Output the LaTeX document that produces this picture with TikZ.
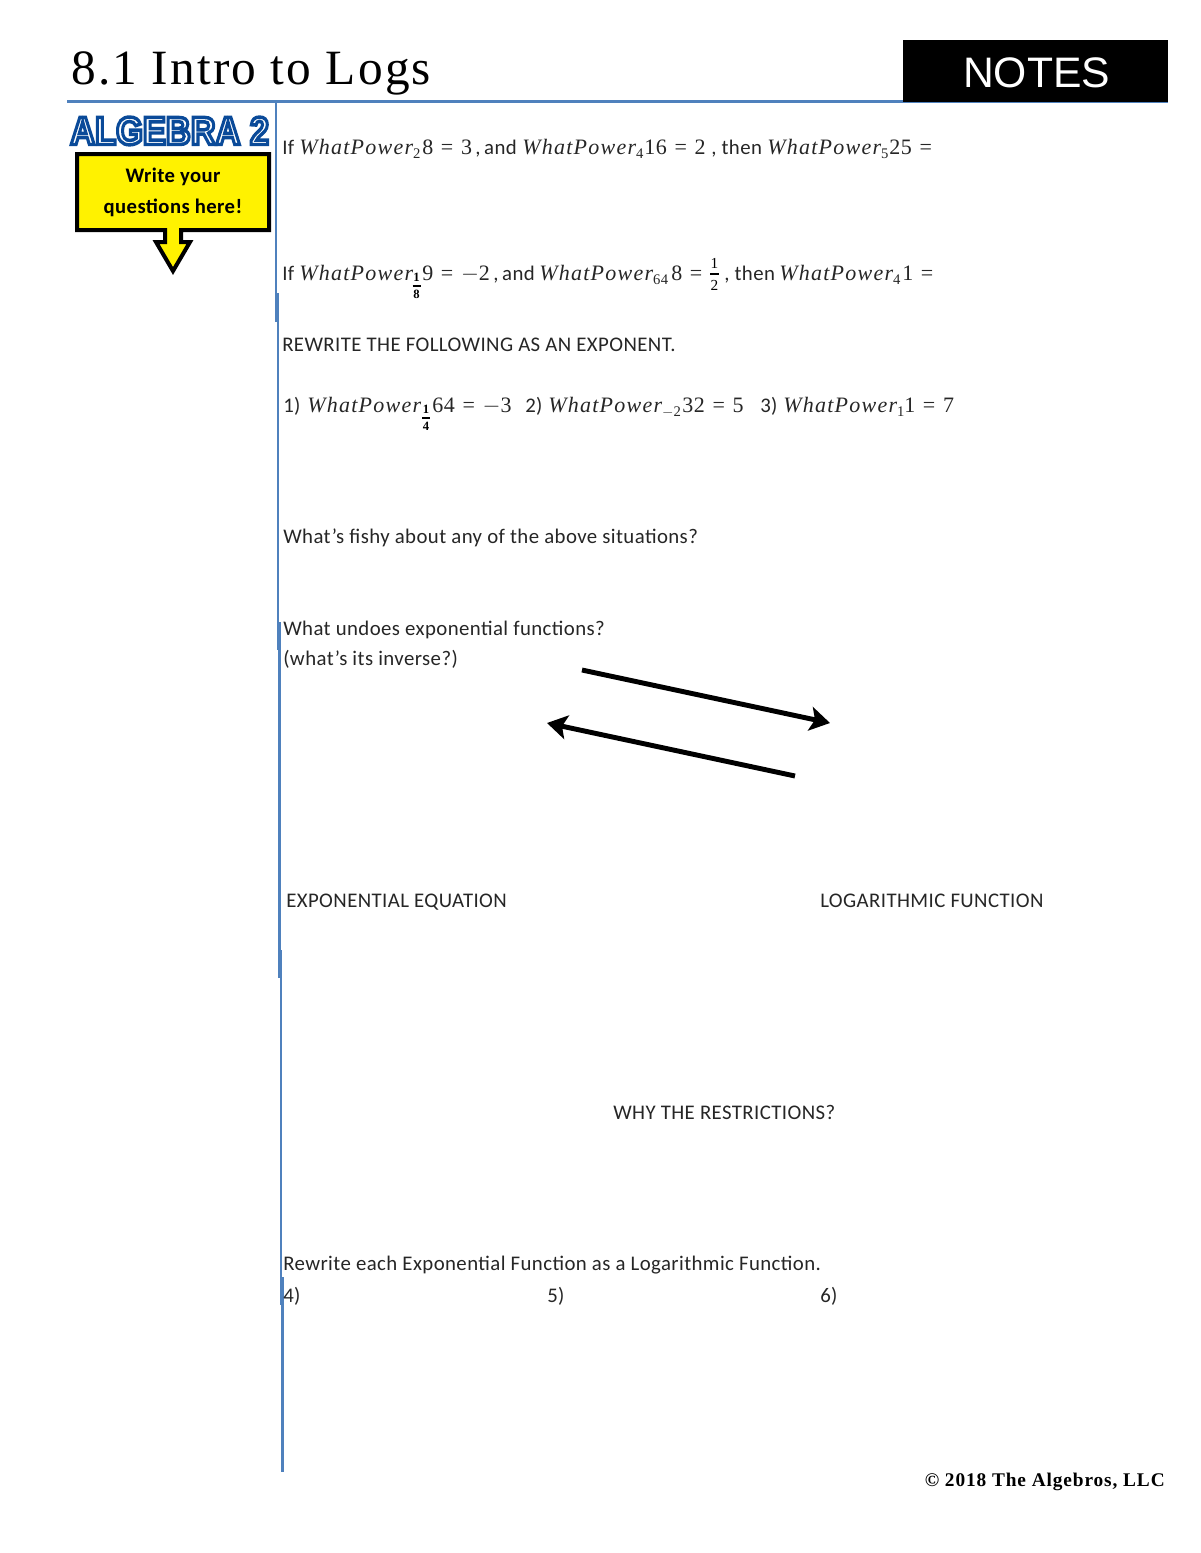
\documentclass[tikz,border=0pt]{standalone}
\usepackage{fontspec}
\usetikzlibrary{arrows.meta}
\setmainfont[LetterSpace=2]{Carlito}
\newfontfamily\mserif{Liberation Serif}
\newfontfamily\titlef[LetterSpace=4.4]{Liberation Serif}
\newfontfamily\footf[LetterSpace=4.6]{Liberation Serif}
\newfontfamily\mital[LetterSpace=5.7]{Liberation Serif Italic}
\newfontfamily\mdig[LetterSpace=3,WordSpace=1.25]{Liberation Serif}
\newfontfamily\heads{Liberation Sans}
\definecolor{rulebl}{RGB}{79,129,189}
\newcommand{\wpw}[1]{{\mital\fontsize{16.5}{18}\selectfont WhatPower}\raisebox{-3pt}{\mdig\fontsize{11}{12}\selectfont #1}}
\newcommand{\dg}[1]{{\mdig\fontsize{16.5}{18}\selectfont #1}}
\begin{document}
\begin{tikzpicture}[x=0.75pt,y=-0.75pt,
  txt/.style={anchor=base west,inner sep=0pt,font=\fontsize{15.6}{18}\selectfont,text=black!85},
  frc/.style={anchor=center,inner sep=0pt,align=center,font=\mserif\bfseries\fontsize{9.5}{12.5}\selectfont},
  frcbig/.style={anchor=center,inner sep=0pt,align=center,font=\mserif\fontsize{11.5}{16.5}\selectfont},
  bluerule/.style={draw=rulebl,line width=2pt},
  bigarrow/.style={draw=black,line width=3.7pt,-{Stealth[length=15pt,width=18pt,inset=3.5pt]}},
  fracbar/.style={draw=black,line width=1.1pt}]
\useasboundingbox (0,0) rectangle (1200,1553);
\fill[white] (0,0) rectangle (1200,1553);
% header
\node[anchor=base west,inner sep=0pt,font=\titlef\fontsize{37}{40}\selectfont] (title) at (71,84) {8.1 Intro to Logs};
\draw[bluerule] (67,101.5) -- (1168,101.5);
\fill[black] (903,39.5) rectangle (1167.5,102);
\node[anchor=center,text=white,inner sep=0pt,font=\heads\fontsize{32}{36}\selectfont] (notes) at (1036.5,73) {NOTES};
% margin rule
\draw[bluerule] (276,102) -- (276,322);
\draw[bluerule] (278,293) -- (278,650);
\draw[bluerule] (279.5,622) -- (279.5,978);
\draw[bluerule] (281,950) -- (281,1305);
\draw[bluerule] (282.5,1277) -- (282.5,1472);
% logo
\node[anchor=base west,inner sep=0pt,text=white,font=\heads\bfseries\fontsize{29.5}{30}\selectfont] (logo) at (70,144.5)
  {\scalebox{0.875}[1]{\special{pdf:code 2 Tr 2.6 w 0.04 0.29 0.6 RG}ALGEBRA 2\special{pdf:code 0 Tr}}};
% callout
\draw[draw=black,fill=yellow,line width=3pt,miter limit=4]
  (77,154) -- (269,154) -- (269,230) -- (181,230) -- (181,242) -- (190,242) -- (173,271) -- (156,242) -- (165,242) -- (165,230) -- (77,230) -- cycle;
\node[anchor=center,inner sep=0pt,align=center,font=\bfseries\fontsize{15.5}{23.3}\selectfont] (callout) at (173,192) {Write your\\questions here!};
% line 1
\node[txt] (a1) at (282,154) {If};
\node[txt] (a2) at (299,154) {\wpw{2}};
\node[txt] (a3) at (422,154) {\dg{8 = 3}};
\node[txt] (a4) at (475,154) {,\hspace{-1pt} and};
\node[txt] (a5) at (522,154) {\wpw{4}};
\node[txt] (a6) at (644,154) {\dg{16 = 2}};
\node[txt] (a7) at (711,154) {, then};
\node[txt] (a8) at (767,154) {\wpw{5}};
\node[txt] (a9) at (889,154) {\dg{25 =}};
% line 2
\node[txt] (b1) at (282,280) {If};
\node[txt] (b2) at (299,280) {\wpw{}};
\node[frc] (b3) at (416.5,286) {1\\8};
\draw[fracbar] (412.5,286) -- (420.5,286);
\node[txt] (b4) at (422,280) {\dg{9 = $-$2}};
\node[txt] (b5) at (493,280) {,\hspace{-1pt} and};
\node[txt] (b6) at (539,280) {\wpw{64}};
\node[txt] (b7) at (671,280) {\dg{8 =}};
\node[frcbig] (b8) at (714.5,274) {1\\2};
\draw[fracbar] (710,274) -- (719,274);
\node[txt] (b9) at (724,280) {, then};
\node[txt] (b10) at (779,280) {\wpw{4}};
\node[txt] (b11) at (902,280) {\dg{1 =}};
% rewrite
\node[txt] (c) at (282,351.5) {REWRITE THE FOLLOWING AS AN EXPONENT.};
% line 3
\node[txt] (d1) at (283,412) {1)};
\node[txt] (d2) at (307,412) {\wpw{}};
\node[frc] (d3) at (426,418) {1\\4};
\draw[fracbar] (422,418) -- (430,418);
\node[txt] (d4) at (432,412) {\dg{64 = $-$3}};
\node[txt] (d5) at (525,412) {2)};
\node[txt] (d6) at (548,412) {\wpw{$-$2}};
\node[txt] (d7) at (682,412) {\dg{32 = 5}};
\node[txt] (d8) at (760,412) {3)};
\node[txt] (d9) at (783,412) {\wpw{1}};
\node[txt] (d10) at (904,412) {\dg{1 = 7}};
% questions
\node[txt] (e) at (283,543.5) {What’s fishy about any of the above situations?};
\node[txt] (f) at (283,635) {What undoes exponential functions?};
\node[txt] (g) at (283,665) {(what’s its inverse?)};
% arrows
\coordinate (r1) at (582,670);
\coordinate (r2) at (830,723);
\coordinate (l1) at (795,776);
\coordinate (l2) at (547,723);
\draw[bigarrow] (r1) -- (r2);
\draw[bigarrow] (l1) -- (l2);
% labels
\node[txt] (h) at (286,907.5) {EXPONENTIAL EQUATION};
\node[txt] (i) at (820,907.5) {LOGARITHMIC FUNCTION};
\node[txt] (j) at (613,1119.5) {WHY THE RESTRICTIONS?};
\node[txt] (k) at (283,1270.5) {Rewrite each Exponential Function as a Logarithmic Function.};
\node[txt] (n4) at (283,1302) {4)};
\node[txt] (n5) at (547,1302) {5)};
\node[txt] (n6) at (820,1302) {6)};
% footer
\node[anchor=base east,inner sep=0pt,font=\footf\bfseries\fontsize{14.5}{16}\selectfont] (foot) at (1165,1486) {© 2018 The Algebros, LLC};
\end{tikzpicture}
\end{document}
